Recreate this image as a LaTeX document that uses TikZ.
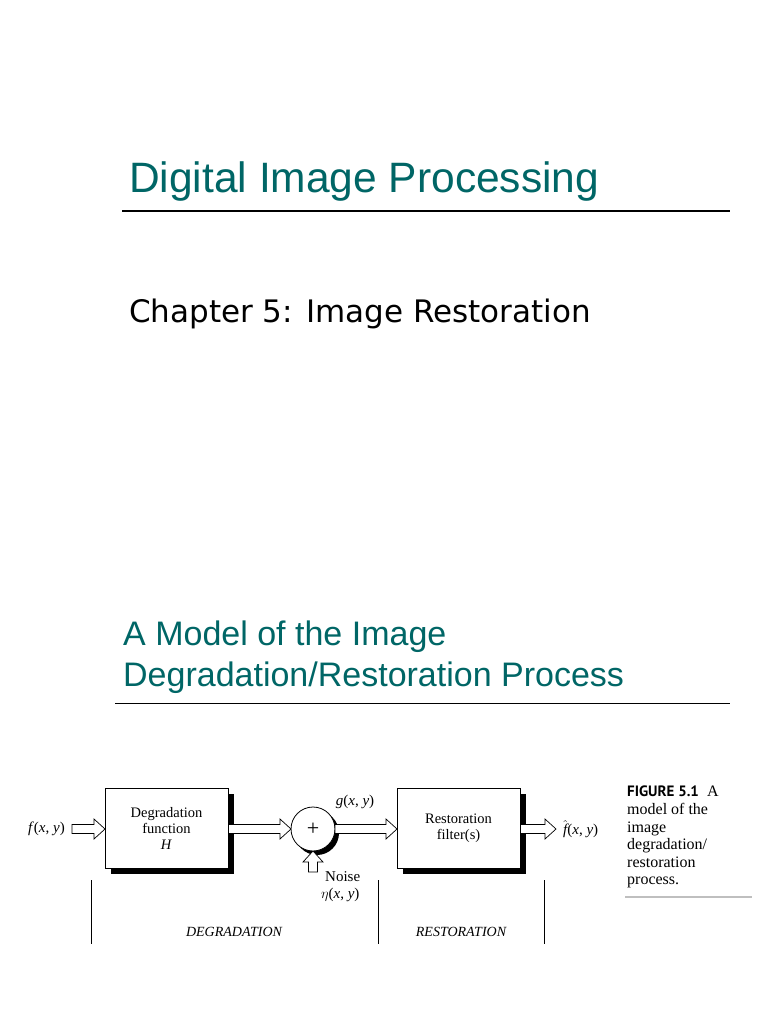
\documentclass[tikz,border=0pt]{standalone}
\usepackage{fontspec}
\setmainfont{Liberation Sans}
\newfontfamily\serifd{Liberation Serif}
\newfontfamily\verd{DejaVu Sans}
\newfontfamily\capf{PT Sans}
\definecolor{teal1}{RGB}{0,102,102}
\tikzset{
 blk/.style={draw,line width=0.8pt,fill=white,minimum width=123pt,minimum height=80pt,font=\serifd\fontsize{14.5}{16}\selectfont,align=center},
 shad/.style={fill=black},
 harr/.style={draw,fill=white,line width=0.7pt,line join=miter},
 lbl/.style={font=\serifd\fontsize{15}{17}\selectfont},
 vline/.style={line width=0.6pt}
}
% horizontal hollow arrow from x1 to x2 at y
\newcommand\hollowh[3]{\draw[harr] (#1,#3-4.5) -- (#2-11,#3-4.5) -- (#2-11,#3-10) -- (#2,#3) -- (#2-11,#3+10) -- (#2-11,#3+4.5) -- (#1,#3+4.5) -- cycle;}
\newcommand\hollowv[3]{\draw[harr] (#3-4.5,#1) -- (#3-4.5,#2+11) -- (#3-10,#2+11) -- (#3,#2) -- (#3+10,#2+11) -- (#3+4.5,#2+11) -- (#3+4.5,#1) -- cycle;}
\begin{document}
\begin{tikzpicture}[x=1pt,y=-1pt]
\useasboundingbox (0,0) rectangle (768,1024);
\fill[white] (0,0) rectangle (768,1024);
\node[anchor=base west,inner sep=0,text=teal1,font=\fontsize{42.5}{46}\selectfont] (title) at (129,193) {Digital Image Processing};
\draw[line width=1.2pt] (122,211) -- (730,211);
\node[anchor=base west,inner sep=0,font=\verd\fontsize{31}{34}\selectfont] (chap) at (129,322) {Chapter 5: Image Restoration};
\node[anchor=base west,inner sep=0,text=teal1,font=\fontsize{34}{37}\selectfont] (m1) at (123,645) {A Model of the Image};
\node[anchor=base west,inner sep=0,text=teal1,font=\fontsize{34}{37}\selectfont] (m2) at (123,686) {Degradation/Restoration Process};
\draw[line width=1pt] (115,703) -- (730,703);
% blocks
\fill[shad] (111,794) rectangle (234,874);
\node[blk] (b1) at (166.5,828) {Degradation\\function\\\textit{H}};
\fill[shad] (403,794) rectangle (526,874);
\node[blk] (b2) at (458.5,828) {Restoration\\filter(s)};
\fill[shad] (317,833) circle (22);
\node[circle,draw,fill=white,line width=0.8pt,minimum size=44pt,inner sep=0,font=\serifd\fontsize{22}{22}\selectfont] (sum) at (313,829) {+};
% arrows
\hollowh{72}{105}{829}
\hollowh{228.5}{291}{829}
\hollowh{335}{397}{829}
\hollowh{520.5}{556}{829}
\hollowv{872}{851}{313}
\node[lbl,anchor=east,inner sep=1pt] (f) at (66,829) {\textit{f}(\textit{x}, \textit{y})};
\node[lbl,anchor=west,inner sep=1pt] (fh) at (562,829) {$\hat{\textit{f}}$(\textit{x}, \textit{y})};
\node[lbl] (g) at (355,802) {\textit{g}(\textit{x}, \textit{y})};
\node[lbl,anchor=west,inner sep=0] (noise) at (325,877) {Noise};
\node[lbl,anchor=west,inner sep=0] (eta) at (321,895) {$\eta$(\textit{x}, \textit{y})};
\draw[vline] (91,880) -- (91,944);
\draw[vline] (378,880) -- (378,944);
\draw[vline] (544,880) -- (544,944);
\node[font=\serifd\itshape\fontsize{14}{16}\selectfont] (deg) at (234,932) {DEGRADATION};
\node[font=\serifd\itshape\fontsize{14}{16}\selectfont] (res) at (461,932) {RESTORATION};
\node[anchor=north west,align=left,inner sep=0,font=\serifd\fontsize{16}{17.6}\selectfont] (cap) at (627,786) {{\capf\bfseries\fontsize{15}{15}\selectfont FIGURE 5.1}\ \ A\\model of the\\image\\degradation/\\restoration\\process.};
\draw[gray!50,line width=1.5pt] (625,897) -- (752,897);
\end{tikzpicture}
\end{document}
